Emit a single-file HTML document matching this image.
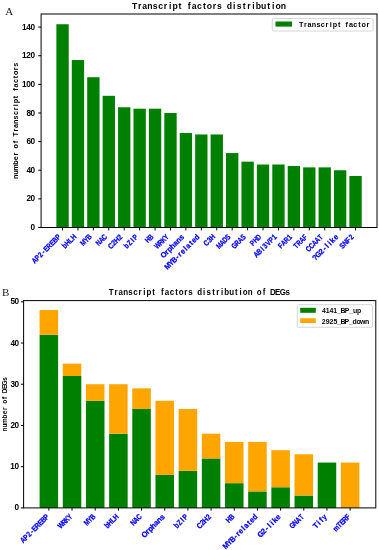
<!DOCTYPE html>
<html><head><meta charset="utf-8"><title>Transcript factors distribution</title>
<style>html,body{margin:0;padding:0;background:#fff}svg{display:block}</style></head>
<body>
<svg width="379" height="550" viewBox="0 0 379 550">
<rect width="379" height="550" fill="#fff"/>
<rect x="56.37" y="24.24" width="12.34" height="203.26" fill="#008000"/>
<rect x="71.79" y="60.03" width="12.34" height="167.47" fill="#008000"/>
<rect x="87.21" y="77.20" width="12.34" height="150.30" fill="#008000"/>
<rect x="102.64" y="95.81" width="12.34" height="131.69" fill="#008000"/>
<rect x="118.06" y="107.26" width="12.34" height="120.24" fill="#008000"/>
<rect x="133.48" y="108.69" width="12.34" height="118.81" fill="#008000"/>
<rect x="148.90" y="108.69" width="12.34" height="118.81" fill="#008000"/>
<rect x="164.33" y="112.99" width="12.34" height="114.51" fill="#008000"/>
<rect x="179.75" y="133.03" width="12.34" height="94.47" fill="#008000"/>
<rect x="195.17" y="134.46" width="12.34" height="93.04" fill="#008000"/>
<rect x="210.59" y="134.46" width="12.34" height="93.04" fill="#008000"/>
<rect x="226.01" y="153.07" width="12.34" height="74.43" fill="#008000"/>
<rect x="241.44" y="161.66" width="12.34" height="65.84" fill="#008000"/>
<rect x="256.86" y="164.52" width="12.34" height="62.98" fill="#008000"/>
<rect x="272.28" y="164.52" width="12.34" height="62.98" fill="#008000"/>
<rect x="287.70" y="165.95" width="12.34" height="61.55" fill="#008000"/>
<rect x="303.13" y="167.38" width="12.34" height="60.12" fill="#008000"/>
<rect x="318.55" y="167.38" width="12.34" height="60.12" fill="#008000"/>
<rect x="333.97" y="170.24" width="12.34" height="57.26" fill="#008000"/>
<rect x="349.39" y="175.97" width="12.34" height="51.53" fill="#008000"/>
<rect x="41.10" y="14.00" width="335.90" height="213.50" fill="none" stroke="#000" stroke-width="1"/>
<line x1="38.20" x2="41.10" y1="227.50" y2="227.50" stroke="#000" stroke-width="1"/>
<text transform="scale(0.97,1)" x="33.92" y="230.10" font-family="'Liberation Sans', sans-serif" font-size="8.50px" font-weight="bold" text-anchor="middle" fill="#000">0</text>
<line x1="38.20" x2="41.10" y1="198.87" y2="198.87" stroke="#000" stroke-width="1"/>
<text transform="scale(0.97,1)" x="29.59 33.92" y="201.47" font-family="'Liberation Sans', sans-serif" font-size="8.50px" font-weight="bold" text-anchor="middle" fill="#000">20</text>
<line x1="38.20" x2="41.10" y1="170.24" y2="170.24" stroke="#000" stroke-width="1"/>
<text transform="scale(0.97,1)" x="29.59 33.92" y="172.84" font-family="'Liberation Sans', sans-serif" font-size="8.50px" font-weight="bold" text-anchor="middle" fill="#000">40</text>
<line x1="38.20" x2="41.10" y1="141.62" y2="141.62" stroke="#000" stroke-width="1"/>
<text transform="scale(0.97,1)" x="29.59 33.92" y="144.22" font-family="'Liberation Sans', sans-serif" font-size="8.50px" font-weight="bold" text-anchor="middle" fill="#000">60</text>
<line x1="38.20" x2="41.10" y1="112.99" y2="112.99" stroke="#000" stroke-width="1"/>
<text transform="scale(0.97,1)" x="29.59 33.92" y="115.59" font-family="'Liberation Sans', sans-serif" font-size="8.50px" font-weight="bold" text-anchor="middle" fill="#000">80</text>
<line x1="38.20" x2="41.10" y1="84.36" y2="84.36" stroke="#000" stroke-width="1"/>
<text transform="scale(0.97,1)" x="25.11 29.36 33.84" y="86.96" font-family="'Liberation Sans', sans-serif" font-size="8.50px" font-weight="bold" text-anchor="middle" fill="#000">100</text>
<line x1="38.20" x2="41.10" y1="55.73" y2="55.73" stroke="#000" stroke-width="1"/>
<text transform="scale(0.97,1)" x="25.11 29.36 33.84" y="58.33" font-family="'Liberation Sans', sans-serif" font-size="8.50px" font-weight="bold" text-anchor="middle" fill="#000">120</text>
<line x1="38.20" x2="41.10" y1="27.10" y2="27.10" stroke="#000" stroke-width="1"/>
<text transform="scale(0.97,1)" x="25.11 29.36 33.84" y="29.70" font-family="'Liberation Sans', sans-serif" font-size="8.50px" font-weight="bold" text-anchor="middle" fill="#000">140</text>
<line x1="62.54" x2="62.54" y1="227.50" y2="230.40" stroke="#000" stroke-width="1"/>
<text transform="translate(61.34,237.40) rotate(-45) scale(0.814,1)" x="-43.46 -38.29 -33.11 -28.20 -23.28 -18.11 -12.94 -7.76 -2.59" y="0.00" font-family="'Liberation Sans', sans-serif" font-size="7.70px" font-weight="bold" text-anchor="middle" fill="#0000ff" stroke="#0000ff" stroke-width="0.25">AP2-EREBP</text>
<line x1="77.96" x2="77.96" y1="227.50" y2="230.40" stroke="#000" stroke-width="1"/>
<text transform="translate(76.76,237.40) rotate(-45) scale(0.82,1)" x="-17.78 -12.70 -7.62 -2.54" y="0.00" font-family="'Liberation Sans', sans-serif" font-size="7.70px" font-weight="bold" text-anchor="middle" fill="#0000ff" stroke="#0000ff" stroke-width="0.25">bHLH</text>
<line x1="93.38" x2="93.38" y1="227.50" y2="230.40" stroke="#000" stroke-width="1"/>
<text transform="translate(92.18,237.40) rotate(-45) scale(0.77,1)" x="-13.15 -7.56 -2.52" y="0.00" font-family="'Liberation Sans', sans-serif" font-size="7.70px" font-weight="bold" text-anchor="middle" fill="#0000ff" stroke="#0000ff" stroke-width="0.25">MYB</text>
<line x1="108.80" x2="108.80" y1="227.50" y2="230.40" stroke="#000" stroke-width="1"/>
<text transform="translate(107.60,237.40) rotate(-45) scale(0.77,1)" x="-13.52 -8.11 -2.70" y="0.00" font-family="'Liberation Sans', sans-serif" font-size="7.70px" font-weight="bold" text-anchor="middle" fill="#0000ff" stroke="#0000ff" stroke-width="0.25">NAC</text>
<line x1="124.23" x2="124.23" y1="227.50" y2="230.40" stroke="#000" stroke-width="1"/>
<text transform="translate(123.03,237.40) rotate(-45) scale(0.87,1)" x="-16.76 -11.97 -7.18 -2.39" y="0.00" font-family="'Liberation Sans', sans-serif" font-size="7.70px" font-weight="bold" text-anchor="middle" fill="#0000ff" stroke="#0000ff" stroke-width="0.25">C2H2</text>
<line x1="139.65" x2="139.65" y1="227.50" y2="230.40" stroke="#000" stroke-width="1"/>
<text transform="translate(138.45,237.40) rotate(-45) scale(0.82,1)" x="-17.68 -12.40 -7.52 -2.64" y="0.00" font-family="'Liberation Sans', sans-serif" font-size="7.70px" font-weight="bold" text-anchor="middle" fill="#0000ff" stroke="#0000ff" stroke-width="0.25">bZIP</text>
<line x1="155.07" x2="155.07" y1="227.50" y2="230.40" stroke="#000" stroke-width="1"/>
<text transform="translate(153.87,237.40) rotate(-45) scale(0.77,1)" x="-8.11 -2.70" y="0.00" font-family="'Liberation Sans', sans-serif" font-size="7.70px" font-weight="bold" text-anchor="middle" fill="#0000ff" stroke="#0000ff" stroke-width="0.25">HB</text>
<line x1="170.49" x2="170.49" y1="227.50" y2="230.40" stroke="#000" stroke-width="1"/>
<text transform="translate(169.29,237.40) rotate(-45) scale(0.77,1)" x="-18.33 -12.52 -7.51 -2.50" y="0.00" font-family="'Liberation Sans', sans-serif" font-size="7.70px" font-weight="bold" text-anchor="middle" fill="#0000ff" stroke="#0000ff" stroke-width="0.25">WRKY</text>
<line x1="185.92" x2="185.92" y1="227.50" y2="230.40" stroke="#000" stroke-width="1"/>
<text transform="translate(184.72,237.40) rotate(-45) scale(0.941,1)" x="-28.73 -24.50 -20.27 -15.76 -11.26 -6.76 -2.25" y="0.00" font-family="'Liberation Sans', sans-serif" font-size="7.70px" font-weight="bold" text-anchor="middle" fill="#0000ff" stroke="#0000ff" stroke-width="0.25">Orphans</text>
<line x1="201.34" x2="201.34" y1="227.50" y2="230.40" stroke="#000" stroke-width="1"/>
<text transform="translate(200.14,237.40) rotate(-45) scale(0.915,1)" x="-47.22 -42.04 -37.38 -32.95 -28.79 -24.41 -20.09 -15.77 -11.39 -7.00 -2.33" y="0.00" font-family="'Liberation Sans', sans-serif" font-size="7.70px" font-weight="bold" text-anchor="middle" fill="#0000ff" stroke="#0000ff" stroke-width="0.25">MYB-related</text>
<line x1="216.76" x2="216.76" y1="227.50" y2="230.40" stroke="#000" stroke-width="1"/>
<text transform="translate(215.56,237.40) rotate(-45) scale(0.837,1)" x="-12.44 -7.46 -2.49" y="0.00" font-family="'Liberation Sans', sans-serif" font-size="7.70px" font-weight="bold" text-anchor="middle" fill="#0000ff" stroke="#0000ff" stroke-width="0.25">C3H</text>
<line x1="232.18" x2="232.18" y1="227.50" y2="230.40" stroke="#000" stroke-width="1"/>
<text transform="translate(230.98,237.40) rotate(-45) scale(0.77,1)" x="-18.51 -12.82 -7.69 -2.56" y="0.00" font-family="'Liberation Sans', sans-serif" font-size="7.70px" font-weight="bold" text-anchor="middle" fill="#0000ff" stroke="#0000ff" stroke-width="0.25">MADS</text>
<line x1="247.61" x2="247.61" y1="227.50" y2="230.40" stroke="#000" stroke-width="1"/>
<text transform="translate(246.41,237.40) rotate(-45) scale(0.77,1)" x="-18.93 -13.52 -8.11 -2.70" y="0.00" font-family="'Liberation Sans', sans-serif" font-size="7.70px" font-weight="bold" text-anchor="middle" fill="#0000ff" stroke="#0000ff" stroke-width="0.25">GRAS</text>
<line x1="263.03" x2="263.03" y1="227.50" y2="230.40" stroke="#000" stroke-width="1"/>
<text transform="translate(261.83,237.40) rotate(-45) scale(0.77,1)" x="-13.52 -8.11 -2.70" y="0.00" font-family="'Liberation Sans', sans-serif" font-size="7.70px" font-weight="bold" text-anchor="middle" fill="#0000ff" stroke="#0000ff" stroke-width="0.25">PHD</text>
<line x1="278.45" x2="278.45" y1="227.50" y2="230.40" stroke="#000" stroke-width="1"/>
<text transform="translate(277.25,237.40) rotate(-45) scale(0.827,1)" x="-32.64 -27.42 -22.59 -17.76 -12.53 -7.31 -2.35" y="0.00" font-family="'Liberation Sans', sans-serif" font-size="7.70px" font-weight="bold" text-anchor="middle" fill="#0000ff" stroke="#0000ff" stroke-width="0.25">ABI3VP1</text>
<line x1="293.87" x2="293.87" y1="227.50" y2="230.40" stroke="#000" stroke-width="1"/>
<text transform="translate(292.67,237.40) rotate(-45) scale(0.82,1)" x="-17.71 -12.50 -7.29 -2.34" y="0.00" font-family="'Liberation Sans', sans-serif" font-size="7.70px" font-weight="bold" text-anchor="middle" fill="#0000ff" stroke="#0000ff" stroke-width="0.25">FAR1</text>
<line x1="309.30" x2="309.30" y1="227.50" y2="230.40" stroke="#000" stroke-width="1"/>
<text transform="translate(308.10,237.40) rotate(-45) scale(0.77,1)" x="-18.93 -13.52 -8.11 -2.70" y="0.00" font-family="'Liberation Sans', sans-serif" font-size="7.70px" font-weight="bold" text-anchor="middle" fill="#0000ff" stroke="#0000ff" stroke-width="0.25">TRAF</text>
<line x1="324.72" x2="324.72" y1="227.50" y2="230.40" stroke="#000" stroke-width="1"/>
<text transform="translate(323.52,237.40) rotate(-45) scale(0.77,1)" x="-24.34 -18.93 -13.52 -8.11 -2.70" y="0.00" font-family="'Liberation Sans', sans-serif" font-size="7.70px" font-weight="bold" text-anchor="middle" fill="#0000ff" stroke="#0000ff" stroke-width="0.25">CCAAT</text>
<line x1="340.14" x2="340.14" y1="227.50" y2="230.40" stroke="#000" stroke-width="1"/>
<text transform="translate(338.94,237.40) rotate(-45) scale(0.945,1)" x="-32.94 -28.30 -23.66 -19.25 -15.19 -11.25 -6.96 -2.32" y="0.00" font-family="'Liberation Sans', sans-serif" font-size="7.70px" font-weight="bold" text-anchor="middle" fill="#0000ff" stroke="#0000ff" stroke-width="0.25">?G2-like</text>
<line x1="355.56" x2="355.56" y1="227.50" y2="230.40" stroke="#000" stroke-width="1"/>
<text transform="translate(354.36,237.40) rotate(-45) scale(0.82,1)" x="-17.78 -12.70 -7.62 -2.54" y="0.00" font-family="'Liberation Sans', sans-serif" font-size="7.70px" font-weight="bold" text-anchor="middle" fill="#0000ff" stroke="#0000ff" stroke-width="0.25">SNF2</text>
<text transform="scale(0.963,1)" x="139.84 145.03 150.21 155.72 161.23 166.75 171.93 176.70 181.80 186.98 191.75 196.52 201.70 207.21 212.40 217.58 222.76 227.94 233.04 238.14 243.24 248.34 253.52 258.38 263.14 268.24 273.76 278.94 283.71 288.81 294.32" y="9.00" font-family="'Liberation Sans', sans-serif" font-size="9.00px" font-weight="bold" text-anchor="middle" fill="#000">Transcript factors distribution</text>
<text transform="translate(18.40,120.75) rotate(-90) scale(0.962,1)" x="-58.35 -53.81 -48.60 -43.39 -38.85 -34.59 -30.67 -26.48 -22.21 -18.29 -14.10 -9.84 -5.58 -1.04 3.49 8.02 12.29 16.21 20.40 24.66 28.58 32.51 36.77 41.30 45.56 49.82 54.09 58.35" y="0.00" font-family="'Liberation Sans', sans-serif" font-size="7.54px" font-weight="bold" text-anchor="middle" fill="#000">number of Transcript factors</text>
<rect x="272.30" y="18.50" width="100.70" height="12.50" rx="1.5" fill="#fff" fill-opacity="0.8" stroke="#ccc" stroke-width="0.8"/>
<rect x="275.50" y="21.50" width="16.50" height="5.10" fill="#008000"/>
<text transform="scale(0.958,1)" x="314.42 318.77 323.12 327.74 332.37 336.99 341.34 345.34 349.62 353.97 357.97 361.97 366.31 370.94 375.29 379.64 383.98" y="27.40" font-family="'Liberation Sans', sans-serif" font-size="7.54px" font-weight="bold" text-anchor="middle" fill="#000">Transcript factor</text>
<rect x="39.59" y="334.78" width="18.54" height="173.12" fill="#008000"/>
<rect x="39.59" y="310.04" width="18.54" height="24.73" fill="#ffa500"/>
<rect x="62.77" y="376.00" width="18.54" height="131.90" fill="#008000"/>
<rect x="62.77" y="363.63" width="18.54" height="12.37" fill="#ffa500"/>
<rect x="85.94" y="400.73" width="18.54" height="107.17" fill="#008000"/>
<rect x="85.94" y="384.24" width="18.54" height="16.49" fill="#ffa500"/>
<rect x="109.12" y="433.70" width="18.54" height="74.20" fill="#008000"/>
<rect x="109.12" y="384.24" width="18.54" height="49.46" fill="#ffa500"/>
<rect x="132.29" y="408.97" width="18.54" height="98.93" fill="#008000"/>
<rect x="132.29" y="388.36" width="18.54" height="20.61" fill="#ffa500"/>
<rect x="155.47" y="474.92" width="18.54" height="32.98" fill="#008000"/>
<rect x="155.47" y="400.73" width="18.54" height="74.20" fill="#ffa500"/>
<rect x="178.64" y="470.80" width="18.54" height="37.10" fill="#008000"/>
<rect x="178.64" y="408.97" width="18.54" height="61.83" fill="#ffa500"/>
<rect x="201.82" y="458.44" width="18.54" height="49.46" fill="#008000"/>
<rect x="201.82" y="433.70" width="18.54" height="24.73" fill="#ffa500"/>
<rect x="224.99" y="483.17" width="18.54" height="24.73" fill="#008000"/>
<rect x="224.99" y="441.95" width="18.54" height="41.22" fill="#ffa500"/>
<rect x="248.17" y="491.41" width="18.54" height="16.49" fill="#008000"/>
<rect x="248.17" y="441.95" width="18.54" height="49.46" fill="#ffa500"/>
<rect x="271.34" y="487.29" width="18.54" height="20.61" fill="#008000"/>
<rect x="271.34" y="450.19" width="18.54" height="37.10" fill="#ffa500"/>
<rect x="294.52" y="495.53" width="18.54" height="12.37" fill="#008000"/>
<rect x="294.52" y="454.31" width="18.54" height="41.22" fill="#ffa500"/>
<rect x="317.69" y="462.56" width="18.54" height="45.34" fill="#008000"/>
<rect x="340.87" y="462.56" width="18.54" height="45.34" fill="#ffa500"/>
<rect x="23.60" y="300.60" width="352.20" height="207.30" fill="none" stroke="#000" stroke-width="1"/>
<line x1="20.90" x2="23.60" y1="507.90" y2="507.90" stroke="#000" stroke-width="1"/>
<text transform="scale(0.97,1)" x="17.37" y="510.50" font-family="'Liberation Sans', sans-serif" font-size="8.50px" font-weight="bold" text-anchor="middle" fill="#000">0</text>
<line x1="20.90" x2="23.60" y1="466.68" y2="466.68" stroke="#000" stroke-width="1"/>
<text transform="scale(0.97,1)" x="13.03 17.26" y="469.28" font-family="'Liberation Sans', sans-serif" font-size="8.50px" font-weight="bold" text-anchor="middle" fill="#000">10</text>
<line x1="20.90" x2="23.60" y1="425.46" y2="425.46" stroke="#000" stroke-width="1"/>
<text transform="scale(0.97,1)" x="13.14 17.37" y="428.06" font-family="'Liberation Sans', sans-serif" font-size="8.50px" font-weight="bold" text-anchor="middle" fill="#000">20</text>
<line x1="20.90" x2="23.60" y1="384.24" y2="384.24" stroke="#000" stroke-width="1"/>
<text transform="scale(0.97,1)" x="13.14 17.37" y="386.84" font-family="'Liberation Sans', sans-serif" font-size="8.50px" font-weight="bold" text-anchor="middle" fill="#000">30</text>
<line x1="20.90" x2="23.60" y1="343.02" y2="343.02" stroke="#000" stroke-width="1"/>
<text transform="scale(0.97,1)" x="13.14 17.37" y="345.62" font-family="'Liberation Sans', sans-serif" font-size="8.50px" font-weight="bold" text-anchor="middle" fill="#000">40</text>
<line x1="20.90" x2="23.60" y1="301.80" y2="301.80" stroke="#000" stroke-width="1"/>
<text transform="scale(0.97,1)" x="13.14 17.37" y="304.40" font-family="'Liberation Sans', sans-serif" font-size="8.50px" font-weight="bold" text-anchor="middle" fill="#000">50</text>
<line x1="48.86" x2="48.86" y1="507.90" y2="510.60" stroke="#000" stroke-width="1"/>
<text transform="translate(49.46,517.30) rotate(-45) scale(0.814,1)" x="-42.78 -37.69 -32.60 -27.76 -22.92 -17.83 -12.73 -7.64 -2.55" y="0.00" font-family="'Liberation Sans', sans-serif" font-size="7.80px" font-weight="bold" text-anchor="middle" fill="#0000ff" stroke="#0000ff" stroke-width="0.25">AP2-EREBP</text>
<line x1="72.04" x2="72.04" y1="507.90" y2="510.60" stroke="#000" stroke-width="1"/>
<text transform="translate(72.64,517.30) rotate(-45) scale(0.77,1)" x="-18.04 -12.33 -7.40 -2.47" y="0.00" font-family="'Liberation Sans', sans-serif" font-size="7.80px" font-weight="bold" text-anchor="middle" fill="#0000ff" stroke="#0000ff" stroke-width="0.25">WRKY</text>
<line x1="95.21" x2="95.21" y1="507.90" y2="510.60" stroke="#000" stroke-width="1"/>
<text transform="translate(95.81,517.30) rotate(-45) scale(0.77,1)" x="-12.95 -7.44 -2.48" y="0.00" font-family="'Liberation Sans', sans-serif" font-size="7.80px" font-weight="bold" text-anchor="middle" fill="#0000ff" stroke="#0000ff" stroke-width="0.25">MYB</text>
<line x1="118.39" x2="118.39" y1="507.90" y2="510.60" stroke="#000" stroke-width="1"/>
<text transform="translate(118.99,517.30) rotate(-45) scale(0.82,1)" x="-17.50 -12.50 -7.50 -2.50" y="0.00" font-family="'Liberation Sans', sans-serif" font-size="7.80px" font-weight="bold" text-anchor="middle" fill="#0000ff" stroke="#0000ff" stroke-width="0.25">bHLH</text>
<line x1="141.56" x2="141.56" y1="507.90" y2="510.60" stroke="#000" stroke-width="1"/>
<text transform="translate(142.16,517.30) rotate(-45) scale(0.77,1)" x="-13.31 -7.99 -2.66" y="0.00" font-family="'Liberation Sans', sans-serif" font-size="7.80px" font-weight="bold" text-anchor="middle" fill="#0000ff" stroke="#0000ff" stroke-width="0.25">NAC</text>
<line x1="164.74" x2="164.74" y1="507.90" y2="510.60" stroke="#000" stroke-width="1"/>
<text transform="translate(165.34,517.30) rotate(-45) scale(0.941,1)" x="-28.28 -24.12 -19.95 -15.52 -11.08 -6.65 -2.22" y="0.00" font-family="'Liberation Sans', sans-serif" font-size="7.80px" font-weight="bold" text-anchor="middle" fill="#0000ff" stroke="#0000ff" stroke-width="0.25">Orphans</text>
<line x1="187.91" x2="187.91" y1="507.90" y2="510.60" stroke="#000" stroke-width="1"/>
<text transform="translate(188.51,517.30) rotate(-45) scale(0.82,1)" x="-17.40 -12.21 -7.40 -2.60" y="0.00" font-family="'Liberation Sans', sans-serif" font-size="7.80px" font-weight="bold" text-anchor="middle" fill="#0000ff" stroke="#0000ff" stroke-width="0.25">bZIP</text>
<line x1="211.09" x2="211.09" y1="507.90" y2="510.60" stroke="#000" stroke-width="1"/>
<text transform="translate(211.69,517.30) rotate(-45) scale(0.87,1)" x="-16.49 -11.78 -7.07 -2.36" y="0.00" font-family="'Liberation Sans', sans-serif" font-size="7.80px" font-weight="bold" text-anchor="middle" fill="#0000ff" stroke="#0000ff" stroke-width="0.25">C2H2</text>
<line x1="234.26" x2="234.26" y1="507.90" y2="510.60" stroke="#000" stroke-width="1"/>
<text transform="translate(234.86,517.30) rotate(-45) scale(0.77,1)" x="-7.99 -2.66" y="0.00" font-family="'Liberation Sans', sans-serif" font-size="7.80px" font-weight="bold" text-anchor="middle" fill="#0000ff" stroke="#0000ff" stroke-width="0.25">HB</text>
<line x1="257.44" x2="257.44" y1="507.90" y2="510.60" stroke="#000" stroke-width="1"/>
<text transform="translate(258.04,517.30) rotate(-45) scale(0.915,1)" x="-46.49 -41.39 -36.79 -32.43 -28.34 -24.02 -19.78 -15.53 -11.21 -6.89 -2.30" y="0.00" font-family="'Liberation Sans', sans-serif" font-size="7.80px" font-weight="bold" text-anchor="middle" fill="#0000ff" stroke="#0000ff" stroke-width="0.25">MYB-related</text>
<line x1="280.61" x2="280.61" y1="507.90" y2="510.60" stroke="#000" stroke-width="1"/>
<text transform="translate(281.21,517.30) rotate(-45) scale(0.941,1)" x="-28.19 -23.57 -19.18 -15.13 -11.21 -6.93 -2.31" y="0.00" font-family="'Liberation Sans', sans-serif" font-size="7.80px" font-weight="bold" text-anchor="middle" fill="#0000ff" stroke="#0000ff" stroke-width="0.25">G2-like</text>
<line x1="303.79" x2="303.79" y1="507.90" y2="510.60" stroke="#000" stroke-width="1"/>
<text transform="translate(304.39,517.30) rotate(-45) scale(0.77,1)" x="-18.64 -13.31 -7.99 -2.66" y="0.00" font-family="'Liberation Sans', sans-serif" font-size="7.80px" font-weight="bold" text-anchor="middle" fill="#0000ff" stroke="#0000ff" stroke-width="0.25">GNAT</text>
<line x1="326.96" x2="326.96" y1="507.90" y2="510.60" stroke="#000" stroke-width="1"/>
<text transform="translate(327.56,517.30) rotate(-45) scale(0.92,1)" x="-15.44 -11.02 -6.88 -2.39" y="0.00" font-family="'Liberation Sans', sans-serif" font-size="7.80px" font-weight="bold" text-anchor="middle" fill="#0000ff" stroke="#0000ff" stroke-width="0.25">Tify</text>
<line x1="350.14" x2="350.14" y1="507.90" y2="510.60" stroke="#000" stroke-width="1"/>
<text transform="translate(350.74,517.30) rotate(-45) scale(0.81,1)" x="-22.20 -16.71 -11.94 -7.16 -2.39" y="0.00" font-family="'Liberation Sans', sans-serif" font-size="7.80px" font-weight="bold" text-anchor="middle" fill="#0000ff" stroke="#0000ff" stroke-width="0.25">mTERF</text>
<text transform="scale(0.947,1)" x="117.53 122.45 127.37 132.60 137.83 143.06 147.98 152.51 157.35 162.27 166.79 171.32 176.24 181.47 186.39 191.31 196.22 201.14 205.98 210.82 215.66 220.50 225.42 230.02 234.55 239.39 244.62 249.54 254.07 258.91 264.14 268.98 273.82 278.74 283.26 288.10 293.33 298.57 303.80" y="295.40" font-family="'Liberation Sans', sans-serif" font-size="8.42px" font-weight="bold" text-anchor="middle" fill="#000">Transcript factors distribution of DEGs</text>
<text transform="translate(6.90,404.25) rotate(-90) scale(0.92,1)" x="-27.52 -23.20 -18.24 -13.28 -8.97 -4.92 -1.19 2.80 6.86 10.59 14.58 18.89 23.20 27.52" y="0.00" font-family="'Liberation Sans', sans-serif" font-size="7.06px" font-weight="bold" text-anchor="middle" fill="#000">number of DEGs</text>
<rect x="297.30" y="304.70" width="75.30" height="22.60" rx="1.5" fill="#fff" fill-opacity="0.8" stroke="#ccc" stroke-width="0.8"/>
<rect x="300.20" y="307.80" width="15.60" height="5.00" fill="#008000"/>
<text transform="scale(0.93,1)" x="348.18 352.27 356.37 360.47 364.56 368.88 373.19 377.50 381.81 386.12" y="313.20" font-family="'Liberation Sans', sans-serif" font-size="7.40px" font-weight="bold" text-anchor="middle" fill="#000">4141_BP_up</text>
<rect x="300.20" y="318.30" width="15.60" height="4.70" fill="#ffa500"/>
<text transform="scale(0.937,1)" x="345.50 349.62 353.75 357.88 362.00 366.13 370.25 374.38 378.50 382.63 387.17 391.70" y="323.60" font-family="'Liberation Sans', sans-serif" font-size="7.40px" font-weight="bold" text-anchor="middle" fill="#000">2925_BP_down</text>
<text x="5.2" y="14.8" font-family="'Liberation Serif', serif" font-size="11px" fill="#222">A</text>
<text x="2.1" y="295.6" font-family="'Liberation Serif', serif" font-size="11px" fill="#222">B</text>
</svg>
</body></html>
